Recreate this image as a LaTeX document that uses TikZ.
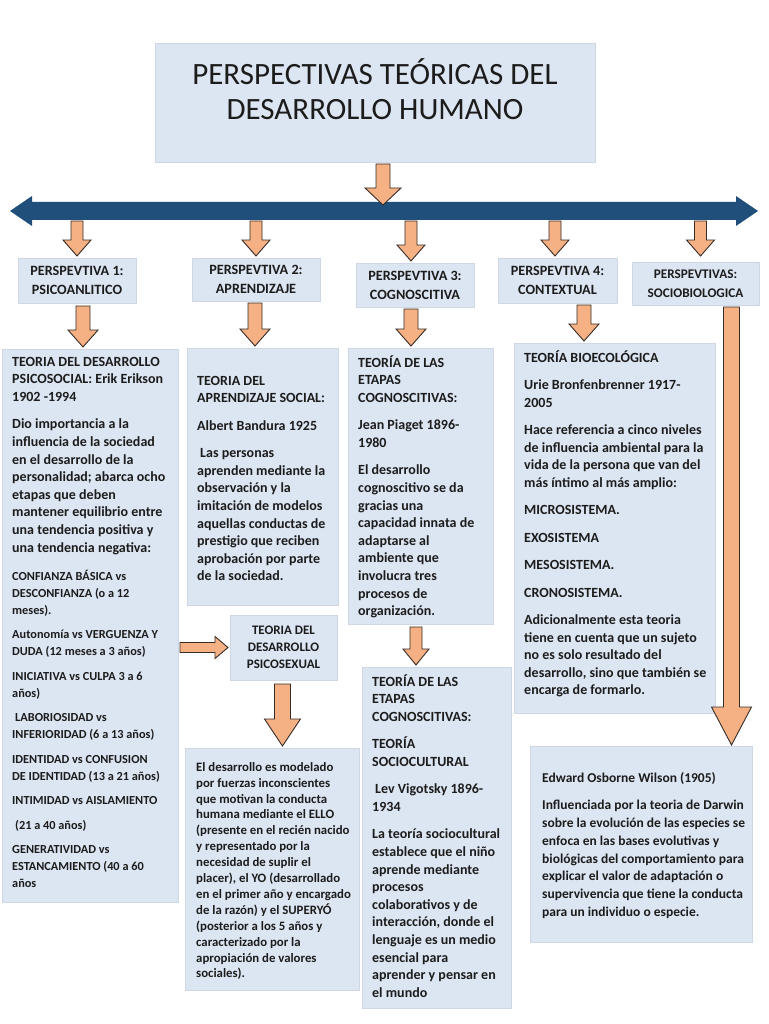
\documentclass[tikz,border=0pt]{standalone}
\usepackage{fontspec}
\setmainfont{Carlito}
\usetikzlibrary{calc}
\definecolor{boxfill}{RGB}{220,230,242}
\definecolor{boxline}{RGB}{206,215,227}
\definecolor{orangefill}{RGB}{245,177,131}
\definecolor{arrowline}{RGB}{55,45,40}
\definecolor{bluebar}{RGB}{33,79,124}
\definecolor{ink}{RGB}{28,28,28}
\newcommand{\tstrut}{\rule{0pt}{12pt}}
\newcommand{\blkdown}[5]{\draw[blockarrow] let \p1=#1, \p2=#2 in (\x1-#3,\y1) -- (\x1+#3,\y1) -- (\x1+#3,\y2+#5) -- (\x1+#4,\y2+#5) -- (\x1,\y2) -- (\x1-#4,\y2+#5) -- (\x1-#3,\y2+#5) -- cycle;}
\newcommand{\blkright}[5]{\draw[blockarrow] let \p1=#1, \p2=#2 in (\x1,\y1+#3) -- (\x2-#5,\y1+#3) -- (\x2-#5,\y1+#4) -- (\x2,\y1) -- (\x2-#5,\y1-#4) -- (\x2-#5,\y1-#3) -- (\x1,\y1-#3) -- cycle;}
\tikzset{
  panel/.style={fill=boxfill, draw=boxline, line width=0.7pt, inner sep=0pt, outer sep=0pt, anchor=north west},
  txt/.style={anchor=north west, inner sep=0pt, align=left, text=ink, font=\bfseries\fontsize{14}{17.6}\selectfont},
  stagetxt/.style={txt, font=\bfseries\fontsize{12.3}{17}\selectfont},
  freudtxt/.style={txt, font=\bfseries\fontsize{12.8}{15.9}\selectfont},
  wilsontxt/.style={txt, font=\bfseries\fontsize{13.5}{17.8}\selectfont},
  persptxt/.style={align=center, text=ink, font=\bfseries\fontsize{14.2}{19}\selectfont},
  blockarrow/.style={fill=orangefill, draw=arrowline, line width=0.9pt, line join=miter},
}
\begin{document}
\begin{tikzpicture}[x=1pt,y=-1pt]
\fill[white] (0,0) rectangle (768,1024);
\useasboundingbox (0,0) rectangle (768,1024);

% title
\node[panel, minimum width=440pt, minimum height=119pt] (title) at (155,43) {};
\node[font=\fontsize{31}{35}\selectfont, text=ink, align=center, inner sep=0pt] (titletext) at ($(title.north)+(0,46)$) {PERSPECTIVAS TEÓRICAS DEL\\DESARROLLO HUMANO};

% bar
\coordinate (barL) at (10,211);
\coordinate (barR) at (758,211);
\coordinate (barB) at (0,221);
\fill[bluebar] let \p1=(barL), \p2=(barR) in (\x1,\y1) -- (\x1+22pt,\y1+15pt) -- (\x1+22pt,\y1+9pt) -- (\x2-22pt,\y1+9pt) -- (\x2-22pt,\y1+15pt) -- (\x2,\y1) -- (\x2-22pt,\y1-15pt) -- (\x2-22pt,\y1-9pt) -- (\x1+22pt,\y1-9pt) -- (\x1+22pt,\y1-15pt) -- cycle;

% perspectives
\node[panel, persptxt, minimum width=118pt, minimum height=45pt] (persp1) at (18,258) {PERSPEVTIVA 1:\\PSICOANLITICO};
\node[panel, persptxt, minimum width=128pt, minimum height=43pt] (persp2) at (192,258) {PERSPEVTIVA 2:\\APRENDIZAJE};
\node[panel, persptxt, minimum width=118pt, minimum height=44pt] (persp3) at (356,263) {PERSPEVTIVA 3:\\COGNOSCITIVA};
\node[panel, persptxt, minimum width=119pt, minimum height=45pt] (persp4) at (498,258) {PERSPEVTIVA 4:\\CONTEXTUAL};
\node[panel, persptxt, font=\bfseries\fontsize{13.2}{19}\selectfont, minimum width=127pt, minimum height=43pt] (persp5) at (632,262) {PERSPEVTIVAS:\\SOCIOBIOLOGICA};

% content panels
\node[panel, minimum width=176pt, minimum height=553pt] (c1) at (2,349) {};
\node[panel, minimum width=151pt, minimum height=257pt] (c2) at (187,348) {};
\node[panel, minimum width=145pt, minimum height=276pt] (c3) at (348,348) {};
\node[panel, minimum width=201pt, minimum height=370pt] (c4) at (514,343) {};
\node[panel, persptxt, font=\bfseries\fontsize{13}{17}\selectfont, minimum width=107pt, minimum height=65pt] (psico) at (230,615) {TEORIA DEL\\DESARROLLO\\PSICOSEXUAL};
\node[panel, minimum width=174pt, minimum height=242pt] (c5) at (185,748) {};
\node[panel, minimum width=149pt, minimum height=341pt] (c6) at (362,667) {};
\node[panel, minimum width=222pt, minimum height=196pt] (c7) at (530,746) {};

% texts
\node[txt] (c1text) at ($(c1.north west)+(10,5)$) {\tstrut TEORIA DEL DESARROLLO\\PSICOSOCIAL: Erik Erikson\\1902 -1994\\[9.8pt]Dio importancia a la\\influencia de la sociedad\\en el desarrollo de la\\personalidad; abarca ocho\\etapas que deben\\mantener equilibrio entre\\una tendencia positiva y\\una tendencia negativa:};
\node[stagetxt] (c1stages) at ($(c1.north west)+(10,219)$) {\tstrut CONFIANZA BÁSICA vs\\DESCONFIANZA (o a 12\\meses).\\[7.5pt]Autonomía vs VERGUENZA Y\\DUDA (12 meses a 3 años)\\[7.5pt]INICIATIVA vs CULPA 3 a 6\\años)\\[7.5pt]\hspace*{3pt}LABORIOSIDAD vs\\INFERIORIDAD (6 a 13 años)\\[7.5pt]IDENTIDAD vs CONFUSION\\DE IDENTIDAD (13 a 21 años)\\[7.5pt]INTIMIDAD vs AISLAMIENTO\\[7.5pt]\hspace*{3pt}(21 a 40 años)\\[7.5pt]GENERATIVIDAD vs\\ESTANCAMIENTO (40 a 60\\años};
\node[txt] (c2text) at ($(c2.north west)+(10,25)$) {\tstrut TEORIA DEL\\APRENDIZAJE SOCIAL:\\[9.8pt]Albert Bandura 1925\\[9.8pt]\hspace*{3pt}Las personas\\aprenden mediante la\\observación y la\\imitación de modelos\\aquellas conductas de\\prestigio que reciben\\aprobación por parte\\de la sociedad.};
\node[txt] (c3text) at ($(c3.north west)+(10,7)$) {\tstrut TEORÍA DE LAS\\ETAPAS\\COGNOSCITIVAS:\\[9.8pt]Jean Piaget 1896-\\1980\\[9.8pt]El desarrollo\\cognoscitivo se da\\gracias una\\capacidad innata de\\adaptarse al\\ambiente que\\involucra tres\\procesos de\\organización.};
\node[txt] (c4text) at ($(c4.north west)+(10,7)$) {\tstrut TEORÍA BIOECOLÓGICA\\[9.8pt]Urie Bronfenbrenner 1917-\\2005\\[9.8pt]Hace referencia a cinco niveles\\de influencia ambiental para la\\vida de la persona que van del\\más íntimo al más amplio:\\[9.8pt]MICROSISTEMA.\\[9.8pt]EXOSISTEMA\\[9.8pt]MESOSISTEMA.\\[9.8pt]CRONOSISTEMA.\\[9.8pt]Adicionalmente esta teoria\\tiene en cuenta que un sujeto\\no es solo resultado del\\desarrollo, sino que también se\\encarga de formarlo.};
\node[freudtxt] (c5text) at ($(c5.north west)+(11,11)$) {\tstrut El desarrollo es modelado\\por fuerzas inconscientes\\que motivan la conducta\\humana mediante el ELLO\\(presente en el recién nacido\\y representado por la\\necesidad de suplir el\\placer), el YO (desarrollado\\en el primer año y encargado\\de la razón) y el SUPERYÓ\\(posterior a los 5 años y\\caracterizado por la\\apropiación de valores\\sociales).};
\node[txt] (c6text) at ($(c6.north west)+(10,7)$) {\tstrut TEORÍA DE LAS\\ETAPAS\\COGNOSCITIVAS:\\[9.8pt]TEORÍA\\SOCIOCULTURAL\\[9.8pt]\hspace*{3pt}Lev Vigotsky 1896-\\1934\\[9.8pt]La teoría sociocultural\\establece que el niño\\aprende mediante\\procesos\\colaborativos y de\\interacción, donde el\\lenguaje es un medio\\esencial para\\aprender y pensar en\\el mundo};
\node[wilsontxt] (c7text) at ($(c7.north west)+(12,24.5)$) {\tstrut Edward Osborne Wilson (1905)\\[9.2pt]Influenciada por la teoria de Darwin\\sobre la evolución de las especies se\\enfoca en las bases evolutivas y\\biológicas del comportamiento para\\explicar el valor de adaptación o\\supervivencia que tiene la conducta\\para un individuo o especie.};

% arrows
\blkdown{($(title.south)+(8,2)$)}{($(title.south)+(8,43)$)}{7pt}{18pt}{17pt}
\blkdown{(persp1.north |- barB)}{($(persp1.north)+(0,-2)$)}{6pt}{14pt}{16pt}
\blkdown{(persp2.north |- barB)}{($(persp2.north)+(0,-2)$)}{6pt}{14pt}{16pt}
\blkdown{($(persp3.north |- barB)+(-4,0)$)}{($(persp3.north)+(-4,-2)$)}{6pt}{14pt}{16pt}
\blkdown{($(persp4.north |- barB)+(-2.5,0)$)}{($(persp4.north)+(-2.5,-2)$)}{6pt}{14pt}{16pt}
\blkdown{($(persp5.north |- barB)+(5,0)$)}{($(persp5.north)+(5,-6)$)}{6pt}{14pt}{16pt}

\blkdown{($(persp1.south)+(6,3)$)}{($(c1.north)+(0,-2)$)}{7pt}{15pt}{17pt}
\blkdown{($(persp2.south)+(-1,2)$)}{($(c2.north)+(0,-2)$)}{7pt}{15pt}{17pt}
\blkdown{($(persp3.south)+(-4,2)$)}{($(c3.north)+(0,-2)$)}{7pt}{15pt}{17pt}
\blkdown{($(persp4.south)+(26.5,2)$)}{($(c4.north)+(0,-2)$)}{7pt}{15pt}{17pt}
\blkdown{($(persp5.south)+(36,2)$)}{($(c7.north)+(0,-1)$)}{8pt}{20pt}{38pt}

\blkright{($(c1.east |- psico.west)+(2,0)$)}{($(psico.west)+(-2,0)$)}{5pt}{11pt}{13pt}
\blkdown{($(psico.south)+(-1,4)$)}{($(c5.north)+(0,-2)$)}{8pt}{18pt}{27pt}
\blkdown{($(c3.south)+(-4.5,3)$)}{($(c6.north)+(0,-2)$)}{6pt}{13pt}{16pt}
\end{tikzpicture}
\end{document}
